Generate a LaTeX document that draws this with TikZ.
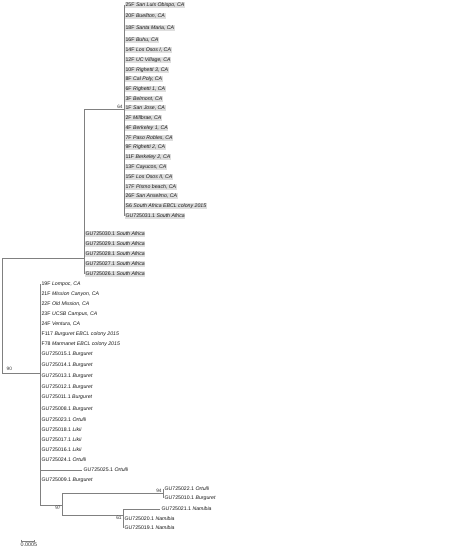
\documentclass[tikz,border=0pt]{standalone}
\usepackage{fontspec}
\setmainfont{Liberation Sans}
\usetikzlibrary{positioning}
\tikzset{
    branch/.style={draw=black!50, line width=0.6pt},
    taxon/.style={
        inner sep=0.6pt, text=black!90,
        font=\fontsize{5.2}{6}\selectfont
    },
    shaded/.style={taxon, fill=black!13},
    support/.style={
        inner sep=0.4pt, text=black!80,
        font=\fontsize{4.8}{5}\selectfont
    },
}
\newcommand{\taxlab}[2]{#1 \textit{#2}}

\begin{document}
\begin{tikzpicture}[x=1pt, y=-1pt]
    \useasboundingbox (0,0) rectangle (474,551);

    % internal nodes
    \coordinate (root) at (2,315.5);
    \coordinate (nSA) at (84,258);
    \coordinate (n64) at (124,109);
    \coordinate (n90) at (40,373);
    \coordinate (n97) at (62,505);
    \coordinate (n94) at (163,493);
    \coordinate (n61) at (123,515);

    \draw[branch] (root) |- (nSA);
    \draw[branch] (root) |- (n90);
    \draw[branch] (nSA) |- (n64);
    \draw[branch] (n90) |- (n97);
    \draw[branch] (n97) |- (n94);
    \draw[branch] (n97) |- (n61);

    % California and South Africa clade
    \foreach \y/\id/\pl [count=\i] in {
        5/25F/{San Luis Obispo, CA}, 16/20F/{Buellton, CA},
        28/18F/{Santa Maria, CA}, 40/16F/{Buhu, CA},
        50/14F/{Los Osos I, CA}, 60/12F/{UC Village, CA},
        70/10F/{Righetti 3, CA}, 79/8F/{Cal Poly, CA},
        89/6F/{Righetti 1, CA}, 99/3F/{Belmont, CA},
        108/1F/{San Jose, CA}, 118/2F/{Millbrae, CA},
        128/4F/{Berkeley 1, CA}, 138/7F/{Paso Robles, CA},
        147/9F/{Righetti 2, CA}, 157/11F/{Berkeley 2, CA},
        167/13F/{Cayucos, CA}, 177/15F/{Los Osos II, CA},
        187/17F/{Pismo beach, CA}, 196/26F/{San Anselmo, CA},
        206/S6/{South Africa EBCL colony 2015},
        216/GU725031.1/{South Africa}} {
        \coordinate (ca\i) at (124,\y);
        \draw[branch] (n64) |- (ca\i);
        \node[shaded, right=0.8pt of ca\i] (calab\i) {\taxlab{\id}{\pl}};
    }

    \foreach \y/\id [count=\i] in {
        234/GU725030.1, 244/GU725029.1, 254/GU725028.1,
        264/GU725027.1, 274/GU725026.1} {
        \coordinate (sa\i) at (84,\y);
        \draw[branch] (nSA) |- (sa\i);
        \node[shaded, right=0.8pt of sa\i] (salab\i) {\taxlab{\id}{South Africa}};
    }

    % Kenya and Santa Barbara clade
    \foreach \y/\id/\pl [count=\i] in {
        284/19F/{Lompoc, CA}, 294/21F/{Mission Canyon, CA},
        304/22F/{Old Mission, CA}, 314/23F/{UCSB Campus, CA},
        324/24F/{Ventura, CA}, 334/F117/{Burguret EBCL colony 2015},
        344/F78/{Marmanet EBCL colony 2015},
        354/GU725015.1/Burguret, 365/GU725014.1/Burguret,
        376/GU725013.1/Burguret, 387/GU725012.1/Burguret,
        397/GU725011.1/Burguret, 409/GU725008.1/Burguret,
        420/GU725023.1/Ortulli, 430/GU725018.1/Likii,
        440/GU725017.1/Likii, 450/GU725016.1/Likii,
        460/GU725024.1/Ortulli, 470/GU725025.1/Ortulli,
        480/GU725009.1/Burguret} {
        \ifnum\i=19
            \coordinate (ke\i) at (82,\y);
        \else
            \coordinate (ke\i) at (40,\y);
        \fi
        \draw[branch] (n90) |- (ke\i);
        \node[taxon, right=0.8pt of ke\i] (kelab\i) {\taxlab{\id}{\pl}};
    }

    % outlying clade
    \coordinate (or1) at (163,489);
    \coordinate (or2) at (163,498);
    \coordinate (na1) at (160,509);
    \coordinate (na2) at (123,519);
    \coordinate (na3) at (123,528);
    \foreach \c in {or1, or2} {
        \draw[branch] (n94) |- (\c);
    }
    \foreach \c in {na1, na2, na3} {
        \draw[branch] (n61) |- (\c);
    }
    \node[taxon, right=0.8pt of or1] (orlab1) {\taxlab{GU725022.1}{Ortulli}};
    \node[taxon, right=0.8pt of or2] (orlab2) {\taxlab{GU725010.1}{Burguret}};
    \node[taxon, right=0.8pt of na1] (nalab1) {\taxlab{GU725021.1}{Namibia}};
    \node[taxon, right=0.8pt of na2] (nalab2) {\taxlab{GU725020.1}{Namibia}};
    \node[taxon, right=0.8pt of na3] (nalab3) {\taxlab{GU725019.1}{Namibia}};

    % bootstrap values
    \node[support, above left=0.3pt and 0.8pt of n64] (bs64) {64};
    \node[support, anchor=south west] (bs90) at (6,371) {90};
    \node[support, below left=0.5pt and 0.8pt of n97] (bs97) {97};
    \node[support, above left=0.3pt and 0.8pt of n94] (bs94) {94};
    \node[support, below left=0.5pt and 0.8pt of n61] (bs61) {61};

    % scale bar
    \coordinate (sbL) at (21,541);
    \coordinate (sbR) at (34,541);
    \draw[branch, line width=0.5pt]
        ([yshift=1.5pt]sbL) -- (sbL) -- (sbR) -- ([yshift=1.5pt]sbR);
    \node[support, font=\fontsize{5.4}{6}\selectfont, anchor=north west, xshift=-1pt, yshift=-1pt] (sblab) at (sbL) {0.0005};
\end{tikzpicture}
\end{document}
